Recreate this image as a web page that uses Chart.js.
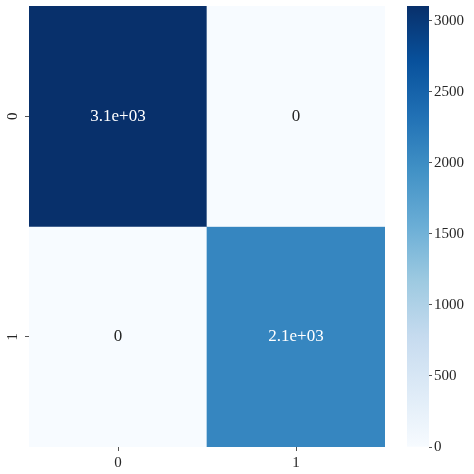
<!DOCTYPE html>
<html>
<head>
<meta charset="utf-8">
<script src="https://cdn.jsdelivr.net/npm/chart.js@4"></script>
<style>
  html, body { margin: 0; padding: 0; background: #fff; }
  #wrap { position: relative; width: 474px; height: 474px; }
  #heat { position: absolute; left: 0; top: 0; }
  #cbar { position: absolute; left: 395px; top: 0; }
</style>
</head>
<body>
<div id="wrap">
  <canvas id="heat" width="395" height="474"></canvas>
  <canvas id="cbar" width="79" height="474"></canvas>
</div>
<script>
// confusion matrix data
const rowLabels = ["0", "1"];
const colLabels = ["0", "1"];
const row0 = [3105, 0];
const row1 = [0, 2080];
const cellText0 = ["3.1e+03", "0"];
const cellText1 = ["0", "2.1e+03"];
const cbarTicks = [0, 500, 1000, 1500, 2000, 2500, 3000];
const vmin = 0;
const vmax = 3105;

const matrix = [row0, row1];
const cellText = [cellText0, cellText1];

// matplotlib "Blues"
const blues = [
  [247, 251, 255], [222, 235, 247], [198, 219, 239], [158, 202, 225],
  [107, 174, 214], [66, 146, 198], [33, 113, 181], [8, 81, 156], [8, 48, 107]
];
function bluesRGB(t) {
  t = Math.max(0, Math.min(1, t));
  const p = t * (blues.length - 1);
  const i = Math.min(Math.floor(p), blues.length - 2);
  const f = p - i;
  return blues[i].map((a, k) => a + (blues[i + 1][k] - a) * f);
}
function colorFor(v) {
  const c = bluesRGB((v - vmin) / (vmax - vmin));
  return `rgb(${Math.round(c[0])},${Math.round(c[1])},${Math.round(c[2])})`;
}
function luminance(v) {
  const c = bluesRGB((v - vmin) / (vmax - vmin)).map(x => {
    x /= 255;
    return x <= 0.03928 ? x / 12.92 : Math.pow((x + 0.055) / 1.055, 2.4);
  });
  return 0.2126 * c[0] + 0.7152 * c[1] + 0.0722 * c[2];
}

const FONT = '"Liberation Serif", "Times New Roman", serif';
Chart.defaults.font.family = FONT;
Chart.defaults.color = '#262626';

const annotate = {
  id: 'annotate',
  afterDatasetsDraw(chart) {
    const ctx = chart.ctx;
    ctx.save();
    ctx.font = '17px ' + FONT;
    ctx.textAlign = 'center';
    ctx.textBaseline = 'middle';
    chart.data.datasets.forEach((ds, r) => {
      chart.getDatasetMeta(r).data.forEach((bar, c) => {
        const v = matrix[r][c];
        ctx.fillStyle = luminance(v) < 0.408 ? '#ffffff' : '#262626';
        ctx.fillText(cellText[r][c], bar.x, (bar.y + bar.base) / 2);
      });
    });
    ctx.restore();
  }
};

new Chart(document.getElementById('heat'), {
  type: 'bar',
  data: {
    labels: colLabels,
    datasets: matrix.map((row, r) => ({
      label: 'row ' + rowLabels[r],
      data: row.map(() => [r, r + 1]),
      backgroundColor: row.map(v => colorFor(v)),
      borderWidth: 0,
      grouped: false,
      barPercentage: 1,
      categoryPercentage: 1
    }))
  },
  options: {
    responsive: false,
    animation: false,
    layout: { padding: { left: 0, right: 10, top: 6, bottom: 0 } },
    plugins: { legend: { display: false }, tooltip: { enabled: false } },
    scales: {
      x: {
        type: 'category',
        border: { display: false },
        grid: { offset: false, drawOnChartArea: false, drawTicks: true, tickLength: 4, color: '#555' },
        ticks: { font: { size: 15 }, padding: 3, color: '#262626' },
        afterFit: s => { s.height = 27; s.paddingLeft = 0; s.paddingRight = 0; }
      },
      y: {
        type: 'linear',
        reverse: true,
        min: 0,
        max: 2,
        border: { display: false },
        grid: { drawOnChartArea: false, drawTicks: true, tickLength: 4, color: '#555' },
        afterBuildTicks: s => { s.ticks = rowLabels.map((l, i) => ({ value: i + 0.5 })); },
        ticks: {
          font: { size: 15 },
          minRotation: 90,
          maxRotation: 90,
          crossAlign: 'center',
          padding: 8,
          color: '#262626',
          callback: v => rowLabels[Math.floor(v)]
        },
        afterFit: s => { s.width = 29; s.paddingTop = 0; s.paddingBottom = 0; }
      }
    }
  },
  plugins: [annotate]
});

new Chart(document.getElementById('cbar'), {
  type: 'bar',
  data: {
    labels: [''],
    datasets: [{
      data: [[vmin, vmax]],
      borderWidth: 0,
      barPercentage: 1,
      categoryPercentage: 1,
      backgroundColor: (c) => {
        const chart = c.chart;
        if (!chart.chartArea) return colorFor(vmax);
        const y = chart.scales.y;
        const g = chart.ctx.createLinearGradient(0, y.getPixelForValue(vmin), 0, y.getPixelForValue(vmax));
        blues.forEach((rgb, i) => g.addColorStop(i / (blues.length - 1), `rgb(${rgb[0]},${rgb[1]},${rgb[2]})`));
        return g;
      }
    }]
  },
  options: {
    responsive: false,
    animation: false,
    layout: { padding: { left: 12, right: 0, top: 6, bottom: 27 } },
    plugins: { legend: { display: false }, tooltip: { enabled: false } },
    scales: {
      x: { display: false },
      y: {
        position: 'right',
        min: vmin,
        max: vmax,
        border: { display: false },
        grid: { drawOnChartArea: false, drawTicks: true, tickLength: 3, color: '#555' },
        afterBuildTicks: s => { s.ticks = cbarTicks.map(v => ({ value: v })); },
        ticks: { font: { size: 15 }, padding: 2, color: '#262626', callback: v => String(v) },
        afterFit: s => { s.width = 45; s.paddingTop = 0; s.paddingBottom = 0; }
      }
    }
  }
});
</script>
</body>
</html>
